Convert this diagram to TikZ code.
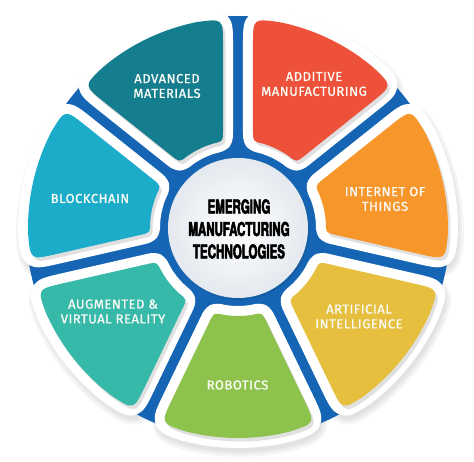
\documentclass[tikz,border=0pt]{standalone}
\usepackage{fontspec}
\newfontfamily\segfont[LetterSpace=4,FakeBold=0.9]{Fira Sans}
\newfontfamily\hubfont[FakeStretch=0.6,FakeBold=2.6]{TeX Gyre Heros}
\definecolor{diskblue}{HTML}{1565B4}
\definecolor{cAdd}{HTML}{EE5139}
\definecolor{cIot}{HTML}{F7962B}
\definecolor{cAi}{HTML}{E5BF3D}
\definecolor{cRob}{HTML}{8DC34C}
\definecolor{cArvr}{HTML}{37B9A9}
\definecolor{cBlk}{HTML}{1AACC9}
\definecolor{cAdv}{HTML}{147E8E}
\definecolor{hubgray}{HTML}{E4E9EF}
\definecolor{txt}{HTML}{FAFBF5}
\tikzset{
  seg/.style={insert path={(68.96:184pt) .. controls (68.38:210pt) .. (75.47:210pt)
    arc[start angle=75.47, end angle=104.53, radius=210pt]
    .. controls (111.62:210pt) .. (111.04:184pt) -- (106.91:98pt)
    .. controls (105.90:88pt) .. (99.39:88pt)
    arc[start angle=99.39, end angle=80.61, radius=88pt]
    .. controls (74.10:88pt) .. (73.09:98pt) -- cycle}},
  label/.style={text=txt, font=\segfont\fontsize{13}{14.8}\selectfont, align=center, inner sep=0pt},
}
\begin{document}
\begin{tikzpicture}[x=1pt,y=1pt]
\useasboundingbox (-238,-234) rectangle (236,228);
% soft outer shadow
\foreach \r in {-25.71,-77.14,-128.57,-180,-231.43,77.14,25.71} {
  \foreach \w in {28,23,18} {
    \draw[black, opacity=0.04, line width=\w pt, line join=round, shift={(2pt,-5pt)}, rotate=\r, seg];
  }
}
% blue disk
\fill[diskblue] (0,0) circle (212pt);
% segments
\foreach \r/\c in {-25.71/cAdd, -77.14/cIot, -128.57/cAi, -180/cRob, -231.43/cArvr, 77.14/cBlk, 25.71/cAdv} {
  \filldraw[white, line width=20pt, line join=round, rotate=\r, seg];
  \fill[black, opacity=0.12, shift={(2.5pt,-3.5pt)}, rotate=\r, seg];
  \fill[\c, rotate=\r, seg];
}
% hub
\fill[black, opacity=0.08] (1.5pt,-2pt) circle (70pt);
\shade[inner color=white, outer color=hubgray] (0,0) circle (70pt);
\node[font=\hubfont\bfseries\fontsize{19.2}{22.5}\selectfont, align=center, inner sep=0pt] (hub) at (1,-1) {EMERGING\\MANUFACTURING\\TECHNOLOGIES};
% labels
\node[label] (adv) at (-71,142) {ADVANCED\\MATERIALS};
\node[label] (add) at (76,144) {ADDITIVE\\MANUFACTURING};
\node[label] (iot) at (147,29) {INTERNET OF\\THINGS};
\node[label] (blk) at (-148,29.5) {BLOCKCHAIN};
\node[label] (arvr) at (-125,-83.5) {AUGMENTED \&\\VIRTUAL REALITY};
\node[label] (ai) at (121,-88.5) {ARTIFICIAL\\INTELLIGENCE};
\node[label] (rob) at (-0.5,-157) {ROBOTICS};
\end{tikzpicture}
\end{document}
